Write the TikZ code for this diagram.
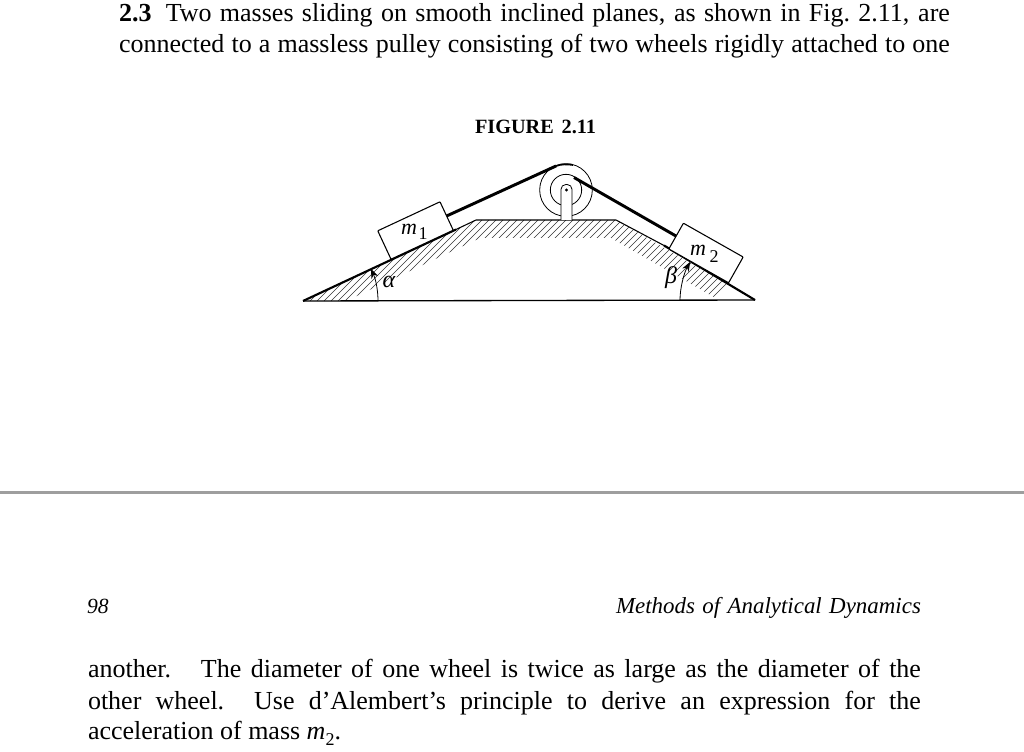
\documentclass[tikz,border=0pt]{standalone}
\usepackage{fontspec}
\setmainfont{Liberation Serif}
\usetikzlibrary{arrows.meta}
\tikzset{
 txt/.style={inner sep=0pt,outer sep=0pt,anchor=base west,text=black},
 body/.style={txt,font=\fontsize{19.5}{22}\selectfont},
 block/.style={draw=black,line width=.8pt,fill=white,inner sep=0pt,outer sep=0pt,minimum width=51.5pt,rounded corners=.5pt},
 surface/.style={line width=.8pt,black},
 contact/.style={line width=1.6pt,black},
 rope/.style={line width=2.2pt,black},
 hatchline/.style={line width=.35pt,black!80},
 wheel/.style={circle,draw=black,line width=.6pt,inner sep=0pt,outer sep=0pt,fill=white},
 anglearrow/.style={line width=.6pt,black,-{Stealth[length=7pt,width=5.5pt]}},
 symb/.style={inner sep=0pt,outer sep=0pt,font=\fontsize{16.5}{18}\selectfont\itshape},
 greek/.style={inner sep=0pt,outer sep=0pt,font=\fontsize{18}{20}\selectfont\itshape},
 subs/.style={inner sep=0pt,outer sep=0pt,font=\fontsize{13.5}{15}\selectfont},
 rulebar/.style={line width=2.6pt,black!38}
}
\begin{document}
\begin{tikzpicture}[x=.75pt,y=-.75pt]
\useasboundingbox (0,0) rectangle (1024,752);
% text
\node[body] (l1) at (119,22) {\hbox to 623.2pt{\textbf{2.3}\hskip .55em Two masses sliding on smooth inclined planes, as shown in Fig.\ 2.11, are}};
\node[body] (l2) at (119,53) {\hbox to 623.2pt{connected to a massless pulley consisting of two wheels rigidly attached to one}};
\node[txt,font=\fontsize{15.2}{17}\selectfont\bfseries] (figcap) at (475,134) {\hbox to 90.75pt{FIGURE 2.11}};
\node[txt,font=\fontsize{16.2}{18}\selectfont\itshape] (pageno) at (87,613) {98};
\node[txt,font=\fontsize{17.2}{19}\selectfont\itshape] (runhead) at (616,613) {\hbox to 228.7pt{Methods of Analytical Dynamics}};
\node[body] (l3) at (88,677) {\hbox to 624.7pt{another.\hskip 1.15em The diameter of one wheel is twice as large as the diameter of the}};
\node[body] (l4) at (88,709) {\hbox to 624.7pt{other wheel.\hskip 1.15em Use d’Alembert’s principle to derive an expression for the}};
\node[body] (l5) at (88,739) {acceleration of mass \textit{m}\raisebox{-.25em}{\fontsize{13.5}{15}\selectfont 2}.};
% rule
\draw[rulebar] (0,492.7) -- (1024,492.7);
% hatching
\begin{scope}
\clip (303,301) -- (476,220) -- (616,220) -- (755,300) -- (719,300) -- (611,238) -- (480,238) -- (346,301) -- cycle;
\foreach \x in {300,307,...,790} {
  \draw[hatchline] (\x-81,301) -- (\x,220);
}
\end{scope}
% incline
\coordinate (tipL) at (303,301);
\coordinate (topL) at (476,220);
\coordinate (topR) at (616,220);
\coordinate (tipR) at (755,300);
\coordinate (contactL) at (456,229.5);
\coordinate (contactR) at (664,245.5);
\draw[surface] (contactL) -- (topL) -- (topR) -- (contactR);
\draw[contact] (tipL) -- (contactL);
\draw[contact] (contactR) -- (tipR);
\draw[line width=1pt] (tipL) -- (tipR);
% pulley
\node[wheel,minimum size=39.5pt] (outer) at (566,190) {};
\node[wheel,minimum size=23.5pt] (inner) at (566,190) {};
\draw[line width=.6pt,fill=white,rounded corners=3.6pt] (561,220) -- (561,184.5) -- (572,184.5) -- (572,220);
\fill (566.5,190) circle (1.2pt);
% blocks
\node[block,minimum height=23.5pt,rotate=25] (m1) at (415.5,230.5) {};
\node[block,minimum height=22.2pt,rotate=-29.5] (m2) at (706,253) {};
% ropes
\coordinate (ropeA) at (556,166);
\coordinate (ropeB) at (574,177.5);
\draw[rope] (m1.east) -- (ropeA);
\draw[rope] (ropeB) -- (m2.west);
\draw[line width=1.3pt] (ropeA) .. controls (561,164) and (568,164) .. (573,165);
% mass labels
\node[symb] (m1m) at (409,229) {m};
\node[subs] (m1s) at (423,234) {1};
\node[symb] (m2m) at (698,250) {m};
\node[subs] (m2s) at (714,257) {2};
% angles
\coordinate (aS) at (378,301);
\coordinate (aE) at (371,269);
\coordinate (bS) at (680,300);
\coordinate (bE) at (690,262);
\draw[anglearrow] (aS) .. controls (378,291) and (376,280) .. (aE);
\draw[anglearrow] (bS) .. controls (680,288) and (684,273) .. (bE);
\node[greek] (alpha) at (389,282) {α};
\node[greek] (beta) at (671,278) {β};
\end{tikzpicture}
\end{document}
